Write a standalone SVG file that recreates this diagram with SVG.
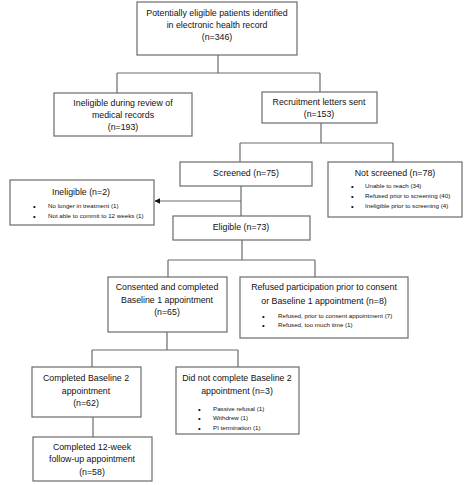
<svg xmlns="http://www.w3.org/2000/svg" width="474" height="485" viewBox="0 0 474 485">
<defs>
<style>
.box{fill:#fff;stroke:#6b6b6b;stroke-width:1.2}
.ln{fill:none;stroke:#6b6b6b;stroke-width:1.2}
text{font-family:"Liberation Sans",Arial,sans-serif;fill:#111}
.t{font-size:8.8px;text-anchor:middle}
.s{font-size:6.2px}
.b{font-size:7.5px;font-weight:bold}
</style>
<marker id="ah" viewBox="0 0 10 10" refX="9" refY="5" markerWidth="5" markerHeight="5" orient="auto"><path d="M0,0L10,5L0,10z" fill="#111"/></marker>
</defs>
<g id="connectors">
<path class="ln" d="M218,55V73M117,73H320M117,73V93M320,73V92"/>
<path class="ln" d="M321,123V143M240,143H393M240,143V162M393,143V162"/>
<path class="ln" d="M241,186V216"/>
<path class="ln" d="M241,201H155" marker-end="url(#ah)"/>
<path class="ln" d="M242,240V260M168,260H315M168,260V277M315,260V277"/>
<path class="ln" d="M167,332V350M92,350H238M92,350V367M238,350V367"/>
<path class="ln" d="M93,417V437"/>
</g>
<g id="n1"><rect class="box" x="137" y="2" width="160" height="53"/>
<text class="t" x="217" y="16">Potentially eligible patients identified</text>
<text class="t" x="217" y="28">in electronic health record</text>
<text class="t" x="217" y="40">(n=346)</text></g>
<g id="n2"><rect class="box" x="54" y="93" width="138" height="43"/>
<text class="t" x="123" y="106">Ineligible during review of</text>
<text class="t" x="123" y="118">medical records</text>
<text class="t" x="123" y="130">(n=193)</text></g>
<g id="n3"><rect class="box" x="262" y="92" width="115" height="31"/>
<text class="t" x="319" y="105">Recruitment letters sent</text>
<text class="t" x="319" y="117">(n=153)</text></g>
<g id="n4"><rect class="box" x="180" y="162" width="132" height="24"/>
<text class="t" x="246" y="176">Screened (n=75)</text></g>
<g id="n5"><rect class="box" x="328" y="162" width="134" height="55"/>
<text class="t" x="395" y="176">Not screened (n=78)</text>
<text class="b" x="351" y="189">•</text><text class="s" x="365" y="188">Unable to reach (34)</text>
<text class="b" x="351" y="199">•</text><text class="s" x="365" y="198">Refused prior to screening (40)</text>
<text class="b" x="351" y="209">•</text><text class="s" x="365" y="208">Ineligible prior to screening (4)</text></g>
<g id="n6"><rect class="box" x="10" y="180" width="144" height="45"/>
<text class="t" x="81" y="195">Ineligible (n=2)</text>
<text class="b" x="33" y="209">•</text><text class="s" x="48" y="208">No longer in treatment (1)</text>
<text class="b" x="33" y="219">•</text><text class="s" x="48" y="218">Not able to commit to 12 weeks (1)</text></g>
<g id="n7"><rect class="box" x="173" y="216" width="137" height="24"/>
<text class="t" x="241" y="230">Eligible (n=73)</text></g>
<g id="n8"><rect class="box" x="108" y="277" width="119" height="55"/>
<text class="t" x="167" y="290">Consented and completed</text>
<text class="t" x="167" y="303">Baseline 1 appointment</text>
<text class="t" x="167" y="315">(n=65)</text></g>
<g id="n9"><rect class="box" x="240" y="277" width="168" height="61"/>
<text class="t" x="324" y="290">Refused participation prior to consent</text>
<text class="t" x="324" y="304">or Baseline 1 appointment (n=8)</text>
<text class="b" x="262" y="319">•</text><text class="s" x="278" y="318">Refused, prior to consent appointment (7)</text>
<text class="b" x="262" y="328">•</text><text class="s" x="278" y="327">Refused, too much time (1)</text></g>
<g id="n10"><rect class="box" x="32" y="367" width="109" height="50"/>
<text class="t" x="86" y="381">Completed Baseline 2</text>
<text class="t" x="86" y="394">appointment</text>
<text class="t" x="86" y="406">(n=62)</text></g>
<g id="n11"><rect class="box" x="176" y="367" width="123" height="67"/>
<text class="t" x="237" y="381">Did not complete Baseline 2</text>
<text class="t" x="237" y="394">appointment (n=3)</text>
<text class="b" x="198" y="412">•</text><text class="s" x="213" y="411">Passive refusal (1)</text>
<text class="b" x="198" y="421">•</text><text class="s" x="213" y="420">Withdrew (1)</text>
<text class="b" x="198" y="431">•</text><text class="s" x="213" y="430">PI termination (1)</text></g>
<g id="n12"><rect class="box" x="33" y="437" width="119" height="44"/>
<text class="t" x="92" y="450">Completed 12-week</text>
<text class="t" x="92" y="462">follow-up appointment</text>
<text class="t" x="92" y="475">(n=58)</text></g>
</svg>
